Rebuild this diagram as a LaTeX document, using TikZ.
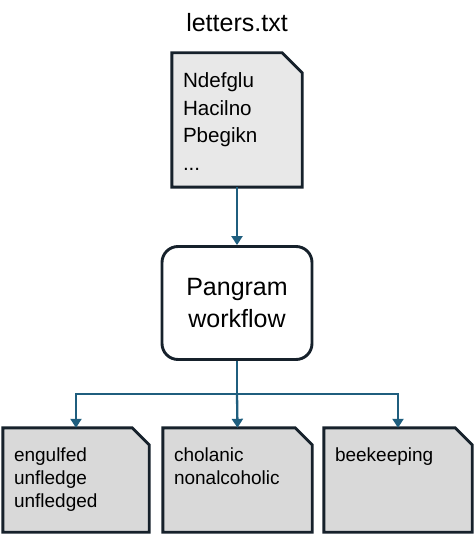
\documentclass[tikz,border=0pt]{standalone}
\usepackage{fontspec}
\setmainfont{Liberation Sans}
\usetikzlibrary{arrows.meta,positioning}

\definecolor{flowblue}{HTML}{1F5E7E}
\definecolor{edgedark}{HTML}{16212B}
\definecolor{ingray}{HTML}{E8E8E8}
\definecolor{outgray}{HTML}{D9D9D9}

\tikzset{
  filebox/.style={draw=none, inner sep=0pt},
  filepath/.style={draw=edgedark, line width=2.9pt, line join=miter},
  listtext/.style={inner sep=0pt, align=left, text=black},
  titletext/.style={inner sep=0pt, font={\fontsize{25}{30}\selectfont}},
  workbox/.style={draw=edgedark, fill=white, line width=2.9pt, rounded corners=16pt,
    minimum width=150pt, minimum height=113pt, align=center,
    font={\fontsize{25}{32}\selectfont}},
  flow/.style={draw=flowblue, line width=2.3pt, -{Triangle[length=9pt,width=11pt]}},
  flowline/.style={draw=flowblue, line width=2.3pt},
}

% file outline with a cut corner: node, fill, corner size
\newcommand{\dogear}[3]{%
  \filldraw[filepath, fill=#2] (#1.north west) -- ([xshift=-#3]#1.north east)
    -- ([yshift=-#3]#1.north east) -- (#1.south east) -- (#1.south west) -- cycle;
}

\begin{document}
\begin{tikzpicture}[x=1pt,y=-1pt]
    \useasboundingbox (0,0) rectangle (474,534);

    % Input file
    \node[filebox, minimum width=130pt, minimum height=134pt] (letters) at (237,120) {};
    \dogear{letters}{ingray}{20pt}
    \node[listtext, anchor=north west, font={\fontsize{20.6}{27.5}\selectfont}] (letterslines)
      at ([shift={(11pt,-20pt)}]letters.north west) {Ndefglu\\Hacilno\\Pbegikn\\...};
    \node[titletext, above=21pt of letters] (lettersname) {letters.txt};

    % Workflow
    \node[workbox] (workflow) at (237,303) {Pangram\\workflow};

    % Output files
    \node[filebox, minimum width=146pt, minimum height=104pt] (outone) at (76,480) {};
    \dogear{outone}{outgray}{17pt}
    \node[listtext, anchor=north west, font={\fontsize{19}{23}\selectfont}] (outonelines)
      at ([shift={(11pt,-20pt)}]outone.north west) {engulfed\\unfledge\\unfledged};

    \node[filebox, minimum width=149pt, minimum height=104pt] (outtwo) at (237.5,480) {};
    \dogear{outtwo}{outgray}{17pt}
    \node[listtext, anchor=north west, font={\fontsize{19}{23}\selectfont}] (outtwolines)
      at ([shift={(11pt,-20pt)}]outtwo.north west) {cholanic\\nonalcoholic};

    \node[filebox, minimum width=148pt, minimum height=104pt] (outthree) at (398,480) {};
    \dogear{outthree}{outgray}{17pt}
    \node[listtext, anchor=north west, font={\fontsize{19}{23}\selectfont}] (outthreelines)
      at ([shift={(11pt,-20pt)}]outthree.north west) {beekeeping};

    % Arrows
    \draw[flow] (letters.south) -- (workflow.north);
    \coordinate (split) at (237,394);
    \draw[flowline] (workflow.south) -- (split);
    \draw[flow] (split) -| (outone.north);
    \draw[flow] (split) -- (outtwo.north);
    \draw[flow] (split) -| (outthree.north);
\end{tikzpicture}
\end{document}
